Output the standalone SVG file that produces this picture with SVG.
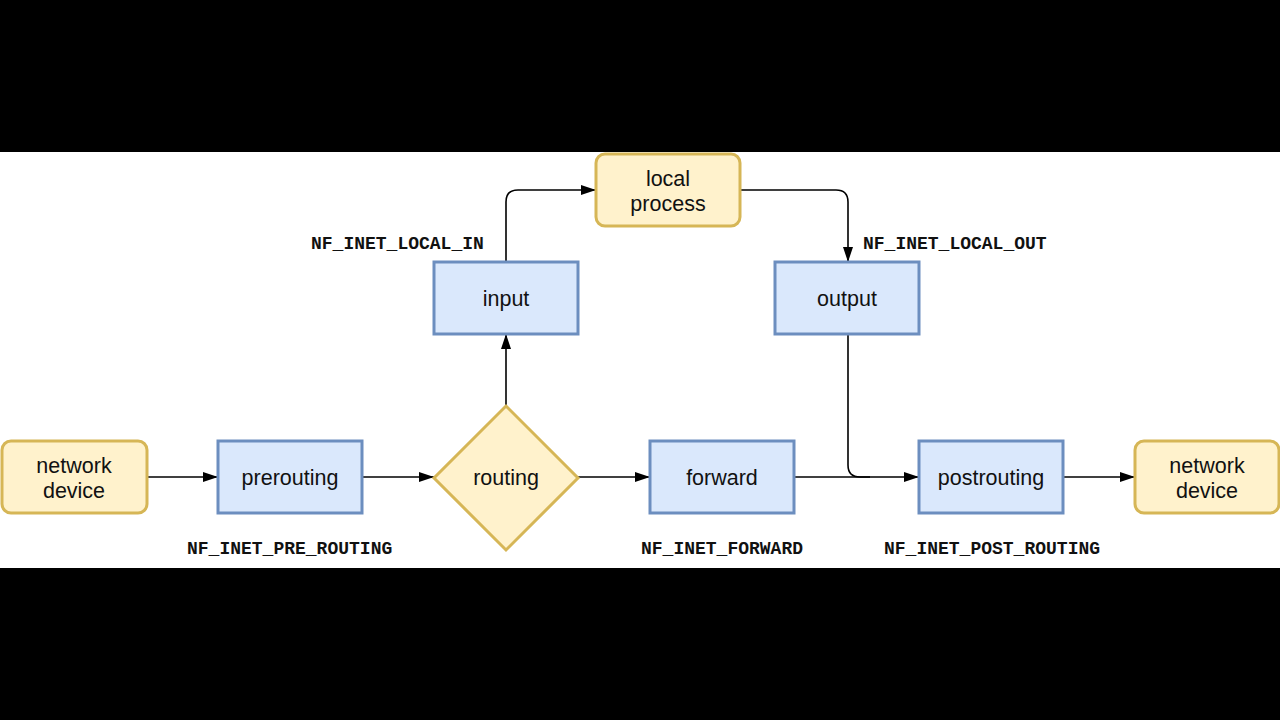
<svg xmlns="http://www.w3.org/2000/svg" width="1280" height="720" viewBox="0 0 1280 720">
<style>
.y{fill:#fff2cc;stroke:#d6b656;stroke-width:3}
.b{fill:#dae8fc;stroke:#6c8ebf;stroke-width:3}
.t{font-family:"Liberation Sans",Arial,sans-serif;font-size:21.5px;fill:#111;text-anchor:middle}
.h{font-family:"Liberation Mono","Courier New",monospace;font-size:18px;font-weight:bold;fill:#111}
.c{fill:none;stroke:#000;stroke-width:1.6}
</style>
<defs>
<marker id="a" viewBox="0 0 15 10" refX="15" refY="5" markerWidth="15" markerHeight="10" markerUnits="userSpaceOnUse" orient="auto">
<path d="M0,0 L15,5 L0,10 Z" fill="#000"/>
</marker>
</defs>
<rect x="0" y="0" width="1280" height="720" fill="#000"/>
<rect x="0" y="152" width="1280" height="416" fill="#fff"/>
<g id="connectors">
<path class="c" d="M147,477 H218" marker-end="url(#a)"/>
<path class="c" d="M362,477 H434" marker-end="url(#a)"/>
<path class="c" d="M506,406 V334" marker-end="url(#a)"/>
<path class="c" d="M506,262 V202 Q506,190 518,190 H596" marker-end="url(#a)"/>
<path class="c" d="M740,190 H836 Q848,190 848,202 V262" marker-end="url(#a)"/>
<path class="c" d="M848,334 V465 Q848,477 860,477 H919" marker-end="url(#a)"/>
<path class="c" d="M578,477 H650" marker-end="url(#a)"/>
<path class="c" d="M794,477 H870"/>
<path class="c" d="M1063,477 H1135" marker-end="url(#a)"/>
</g>
<g id="netdev-in"><rect class="y" x="2" y="441" width="145" height="72" rx="9"/><text class="t" x="74" y="473">network</text><text class="t" x="74" y="498">device</text></g>
<g id="prerouting"><rect class="b" x="218" y="441" width="144" height="72"/><text class="t" x="290" y="485">prerouting</text></g>
<g id="routing"><polygon class="y" points="506,406 578,478 506,550 434,478"/><text class="t" x="506" y="485">routing</text></g>
<g id="input"><rect class="b" x="434" y="262" width="144" height="72"/><text class="t" x="506" y="306">input</text></g>
<g id="local-process"><rect class="y" x="596" y="154" width="144" height="72" rx="9"/><text class="t" x="668" y="186">local</text><text class="t" x="668" y="211">process</text></g>
<g id="output"><rect class="b" x="775" y="262" width="144" height="72"/><text class="t" x="847" y="306">output</text></g>
<g id="forward"><rect class="b" x="650" y="441" width="144" height="72"/><text class="t" x="722" y="485">forward</text></g>
<g id="postrouting"><rect class="b" x="919" y="441" width="144" height="72"/><text class="t" x="991" y="485">postrouting</text></g>
<g id="netdev-out"><rect class="y" x="1135" y="441" width="144" height="72" rx="9"/><text class="t" x="1207" y="473">network</text><text class="t" x="1207" y="498">device</text></g>
<g id="hooks">
<text class="h" x="311" y="249">NF_INET_LOCAL_IN</text>
<text class="h" x="863" y="249">NF_INET_LOCAL_OUT</text>
<text class="h" x="187" y="554">NF_INET_PRE_ROUTING</text>
<text class="h" x="641" y="554">NF_INET_FORWARD</text>
<text class="h" x="884" y="554">NF_INET_POST_ROUTING</text>
</g>
</svg>
